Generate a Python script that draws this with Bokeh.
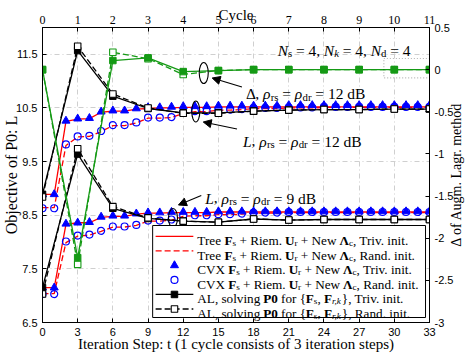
import math
from bokeh.plotting import figure
from bokeh.models import (Range1d, LinearAxis, FixedTicker, Label, Arrow,
                          NormalHead, BoxAnnotation)
from bokeh.embed import file_html
from bokeh.resources import INLINE

# ---------------- data ----------------
steps = list(range(34))                 # iteration steps t
cycle_steps = list(range(0, 34, 3))     # steps at which AL / Delta are reported
cycles = list(range(12))                # cycle index (top axis)

# 12 dB, L
tree_triv_12 = [8.89, 8.89, 10.25, 10.29, 10.30, 10.42, 10.44, 10.44, 10.48, 10.49,
                10.50, 10.50, 10.51, 10.51, 10.51, 10.52, 10.52, 10.52, 10.52, 10.52,
                10.52, 10.52, 10.52, 10.52, 10.52, 10.52, 10.52, 10.52, 10.52, 10.52,
                10.52, 10.52, 10.52, 10.52]
tree_rand_12 = [8.64, 8.64, 9.80, 9.96, 9.97, 10.06, 10.17, 10.17, 10.22, 10.31,
                10.31, 10.32, 10.40, 10.43, 10.43, 10.46, 10.46, 10.47, 10.49, 10.49,
                10.49, 10.50, 10.50, 10.50, 10.51, 10.51, 10.51, 10.51, 10.51, 10.51,
                10.51, 10.51, 10.51, 10.51]
cvx_triv_12 = [8.89, 8.89, 10.26, 10.30, 10.31, 10.43, 10.45, 10.45, 10.49, 10.51,
               10.51, 10.52, 10.53, 10.53, 10.53, 10.54, 10.54, 10.54, 10.54, 10.54,
               10.54, 10.55, 10.55, 10.55, 10.55, 10.55, 10.55, 10.55, 10.55, 10.55,
               10.55, 10.55, 10.55, 10.55]
cvx_rand_12 = [8.63, 8.63, 9.82, 9.97, 9.98, 10.07, 10.18, 10.18, 10.23, 10.32,
               10.32, 10.33, 10.41, 10.44, 10.44, 10.47, 10.47, 10.48, 10.50, 10.50,
               10.50, 10.51, 10.51, 10.51, 10.52, 10.52, 10.52, 10.52, 10.52, 10.52,
               10.52, 10.52, 10.52, 10.52]
al_triv_12 = [8.89, 11.57, 10.72, 10.49, 10.41, 10.41, 10.44, 10.46, 10.47, 10.47, 10.48, 10.48]
al_rand_12 = [8.84, 11.65, 10.76, 10.50, 10.40, 10.40, 10.44, 10.46, 10.47, 10.47, 10.48, 10.48]

# 9 dB, L
tree_triv_9 = [7.15, 7.15, 8.33, 8.36, 8.36, 8.46, 8.48, 8.48, 8.52, 8.54,
               8.54, 8.55, 8.55, 8.55, 8.55, 8.56, 8.56, 8.56, 8.56, 8.56,
               8.56, 8.56, 8.56, 8.56, 8.56, 8.56, 8.56, 8.56, 8.56, 8.56,
               8.56, 8.56, 8.56, 8.56]
tree_rand_9 = [7.04, 7.04, 7.99, 8.11, 8.13, 8.20, 8.28, 8.28, 8.31, 8.39,
               8.39, 8.41, 8.48, 8.49, 8.49, 8.51, 8.51, 8.52, 8.54, 8.54,
               8.54, 8.55, 8.55, 8.55, 8.55, 8.55, 8.55, 8.55, 8.55, 8.55,
               8.55, 8.55, 8.55, 8.55]
cvx_triv_9 = [7.15, 7.15, 8.34, 8.36, 8.37, 8.47, 8.49, 8.49, 8.53, 8.55,
              8.55, 8.56, 8.56, 8.56, 8.56, 8.57, 8.57, 8.57, 8.57, 8.57,
              8.57, 8.57, 8.57, 8.57, 8.57, 8.57, 8.57, 8.57, 8.57, 8.57,
              8.57, 8.57, 8.57, 8.57]
cvx_rand_9 = [7.03, 7.03, 8.01, 8.12, 8.14, 8.21, 8.29, 8.29, 8.32, 8.40,
              8.40, 8.42, 8.49, 8.50, 8.50, 8.52, 8.52, 8.53, 8.55, 8.55,
              8.55, 8.56, 8.56, 8.56, 8.56, 8.56, 8.56, 8.56, 8.56, 8.56,
              8.56, 8.56, 8.56, 8.56]
al_triv_9 = [7.15, 9.64, 8.63, 8.44, 8.39, 8.37, 8.43, 8.41, 8.42, 8.42, 8.42, 8.42]
al_rand_9 = [7.03, 9.74, 8.66, 8.45, 8.39, 8.37, 8.43, 8.41, 8.42, 8.42, 8.42, 8.42]

# Delta of augmented Lagrangian method, 12 dB (right axis)
delta_triv = [0.0, -2.23, 0.108, 0.14, -0.023, -0.012, 0.0, 0.0, 0.0, 0.0, 0.0, 0.0]
delta_rand = [0.0, -2.31, 0.206, 0.13, -0.058, -0.010, 0.0, 0.0, 0.0, 0.0, 0.0, 0.0]

left_ticks = [6.5, 7.5, 8.5, 9.5, 10.5, 11.5]
bottom_ticks = list(range(0, 34, 3))
right_ticks = [-3, -2.5, -2, -1.5, -1, -0.5, 0, 0.5]
right_tick_labels = ["-3", "-2.5", "-2", "-1.5", "-1", "-0.5", "0", "0.5"]

legend_suffix = ["Triv. init.", "Rand. init.", "Triv. init.", "Rand. init.", "Triv. init.", "Rand. init."]

# ---------------- layout ----------------
W, H = 474, 357
FL, FR, FT, FB = 41, 431, 27, 322
X0, X1 = 0.0, 33.0
Y0, Y1 = 6.5, 12.0
R0, R1 = -3.0, 0.5

def tx(px):
    return X0 + (px - FL) * (X1 - X0) / (FR - FL)

def ty(py):
    return Y0 + (FB - py) * (Y1 - Y0) / (FB - FT)

def tr(py):
    return R0 + (FB - py) * (R1 - R0) / (FB - FT)

SERIF = "Liberation Serif"
SANS = "Liberation Sans"
RED, BLUE, GREEN, BLACK = "#ff0000", "#0000ff", "#159a15", "#000000"

p = figure(width=W, height=H, x_range=Range1d(X0, X1), y_range=Range1d(Y0, Y1),
           output_backend="svg", toolbar_location=None,
           min_border_left=FL, min_border_right=W - FR,
           min_border_top=FT, min_border_bottom=H - FB)
p.background_fill_color = "white"
p.border_fill_color = "white"
p.outline_line_color = "black"
p.outline_line_width = 1

bottom_ax = p.below[0]
left_ax = p.left[0]

p.extra_y_ranges = {"right": Range1d(R0, R1)}
p.extra_x_ranges = {"cyc": Range1d(0, 11)}

ax_r = LinearAxis(y_range_name="right", ticker=FixedTicker(ticks=right_ticks),
                  major_label_overrides={t: l for t, l in zip(right_ticks, right_tick_labels)})
ax_t = LinearAxis(x_range_name="cyc", ticker=FixedTicker(ticks=cycles))
p.add_layout(ax_r, "right")
p.add_layout(ax_t, "above")
bottom_ax.ticker = FixedTicker(ticks=bottom_ticks)
left_ax.ticker = FixedTicker(ticks=left_ticks)

for ax in [bottom_ax, left_ax, ax_r, ax_t]:
    ax.axis_line_color = "black"
    ax.major_tick_in = 4
    ax.major_tick_out = 0
    ax.minor_tick_in = 0
    ax.minor_tick_out = 0
    ax.major_tick_line_color = "black"
    ax.major_label_text_color = "black"
    ax.major_label_text_font = SANS
    ax.major_label_text_font_size = "11px"
    ax.major_label_standoff = 5
    ax.axis_label_text_font = SERIF
    ax.axis_label_text_font_style = "normal"
    ax.axis_label_text_color = "black"
ax_t.major_label_text_font = SERIF
ax_t.major_label_text_font_size = "12px"
ax_t.major_label_standoff = 4

bottom_ax.axis_label = "Iteration Step: t (1 cycle consists of 3 iteration steps)"
bottom_ax.axis_label_text_font_size = "15px"
bottom_ax.axis_label_standoff = -3
left_ax.axis_label = "Objective of P0: L"
left_ax.axis_label_text_font_size = "16px"
left_ax.axis_label_standoff = -7
ax_t.axis_label = "Cycle"
ax_t.axis_label_text_font_size = "15px"
ax_t.axis_label_standoff = -10

# right-hand title: one rotated tick label on a bare companion axis, so that it
# reads bottom-to-top and starts where the reference's title starts
title_tick = -2.1
ax_r_title = LinearAxis(y_range_name="right", ticker=FixedTicker(ticks=[title_tick]),
                        major_label_overrides={title_tick: "Δ of Augm. Lagr. method"},
                        major_label_orientation=math.pi / 2,
                        major_label_text_font=SERIF, major_label_text_font_size="14px",
                        major_label_text_color="black", major_label_standoff=0,
                        axis_line_color=None, major_tick_line_color=None,
                        minor_tick_line_color=None,
                        major_tick_in=0, major_tick_out=0, minor_tick_in=0, minor_tick_out=0)
p.add_layout(ax_r_title, "right")

p.xgrid.ticker = FixedTicker(ticks=bottom_ticks)
p.ygrid.ticker = FixedTicker(ticks=left_ticks)
for g in [p.xgrid[0], p.ygrid[0]]:
    g.grid_line_color = "#cfcfcf"
    g.grid_line_dash = "5 3 1 3"
    g.grid_line_width = 1

# ---------------- series ----------------
LW = 1.3
for ys in [tree_triv_12, tree_triv_9]:
    p.line(steps, ys, line_color=RED, line_width=LW)
for ys in [tree_rand_12, tree_rand_9]:
    p.line(steps, ys, line_color=RED, line_width=LW, line_dash="6 3")
for ys in [cvx_triv_12, cvx_triv_9]:
    p.scatter(steps, ys, marker="triangle", size=8, fill_color=BLUE, line_color=BLUE)
for ys in [cvx_rand_12, cvx_rand_9]:
    p.scatter(steps, ys, marker="circle", size=7, fill_color=None, line_color=BLUE, line_width=1.2)
for ys in [al_triv_12, al_triv_9]:
    p.line(cycle_steps, ys, line_color=BLACK, line_width=LW)
    p.scatter(cycle_steps, ys, marker="square", size=6.5, fill_color=BLACK, line_color=BLACK)
for ys in [al_rand_12, al_rand_9]:
    p.line(cycle_steps, ys, line_color=BLACK, line_width=LW, line_dash="6 3")
    p.scatter(cycle_steps, ys, marker="square", size=6.5, fill_color="white", line_color=BLACK, line_width=1.1)
p.line(cycle_steps, delta_rand, y_range_name="right", line_color=GREEN, line_width=LW, line_dash="6 3")
p.scatter(cycle_steps, delta_rand, y_range_name="right", marker="square", size=6.5,
          fill_color="white", line_color=GREEN, line_width=1.1)
p.line(cycle_steps, delta_triv, y_range_name="right", line_color=GREEN, line_width=LW)
p.scatter(cycle_steps, delta_triv, y_range_name="right", marker="square", size=6.5,
          fill_color=GREEN, line_color=GREEN)

# ---------------- rich text helper ----------------
REG = {' ': .25, ',': .25, '.': .25, ':': .278, '(': .333, ')': .333, '{': .48, '}': .48,
       '+': .564, '=': .564, '-': .333, 'Δ': .612, 'Λ': .70, 'ρ': .5}
for c in "0123456789":
    REG[c] = .5
REG.update(dict(A=.722, B=.667, C=.667, D=.722, E=.611, F=.556, G=.722, H=.722, I=.333,
                J=.389, K=.722, L=.611, M=.889, N=.722, O=.722, P=.556, Q=.722, R=.667,
                S=.556, T=.611, U=.722, V=.722, W=.944, X=.722, Y=.722, Z=.611,
                a=.444, b=.5, c=.444, d=.5, e=.444, f=.333, g=.5, h=.5, i=.278, j=.278,
                k=.5, l=.278, m=.778, n=.5, o=.5, p=.5, q=.5, r=.333, s=.389, t=.278,
                u=.5, v=.5, w=.722, x=.5, y=.5, z=.444))
ITAL = dict(N=.667, L=.556, k=.444, r=.389, t=.278, d=.5)
BOLD = {'F': .611, 'U': .722, 'P': .611, 'Λ': .72, 'r': .444, 's': .389, 'c': .444, '0': .5}


def text_w(s, style, fs):
    tab = dict(REG)
    if style == "italic":
        tab.update(ITAL)
    elif style == "bold":
        tab.update(BOLD)
    return sum(tab.get(ch, .5) for ch in s) * fs


def add_rich(segs, x0, y0, size):
    cum = 0.0
    for (t, st, sub) in segs:
        fs = size * 0.7 if sub else size
        lead = len(t) - len(t.lstrip(" "))
        shown = t.strip(" ")
        off = cum + lead * REG[' '] * fs
        shift = 0.2 * size if sub else 0.0
        if shown:
            p.add_layout(Label(x=tx(x0 + off), y=ty(y0 + shift), text=shown, text_font=SERIF,
                               text_font_size=f"{fs:.1f}px", text_font_style=st,
                               text_color="black", text_align="left",
                               text_baseline="alphabetic"))
        cum += text_w(t, st, fs)


N, I, B = "normal", "italic", "bold"

# ---------------- annotations ----------------
add_rich([("N", I, 0), ("s", N, 1), (" = 4, ", N, 0), ("N", I, 0), ("k", I, 1),
          (" = 4, ", N, 0), ("N", I, 0), ("d", N, 1), (" = 4", N, 0)], 278, 49.5, 15.5)
add_rich([("Δ", N, 0), (", ", N, 0), ("ρ", I, 0), ("rs", N, 1), (" = ", N, 0), ("ρ", I, 0),
          ("dr", N, 1), (" = 12 dB", N, 0)], 246, 93.3, 15.5)
add_rich([("L", I, 0), (", ", N, 0), ("ρ", I, 0), ("rs", N, 1), (" = ", N, 0), ("ρ", I, 0),
          ("dr", N, 1), (" = 12 dB", N, 0)], 243, 140.7, 15.5)
add_rich([("L", I, 0), (", ", N, 0), ("ρ", I, 0), ("rs", N, 1), (" = ", N, 0), ("ρ", I, 0),
          ("dr", N, 1), (" = 9 dB", N, 0)], 205, 197.7, 15.5)

# ellipses (screen-sized) and arrows
ell_px = [(203.5, 72.5, 9, 21), (195.5, 111.0, 8, 21), (172.5, 217.5, 9, 19)]
p.ellipse(x=[tx(e[0]) for e in ell_px], y=[ty(e[1]) for e in ell_px],
          width=[e[2] for e in ell_px], height=[e[3] for e in ell_px],
          width_units="screen", height_units="screen",
          fill_color=None, line_color="black", line_width=1.1)
arrows_px = [((242, 86.5), (212, 77.5)), ((237, 128.5), (203, 121.5)), ((201, 195), (178, 204.5))]
for (sx, sy), (ex, ey) in arrows_px:
    p.add_layout(Arrow(end=NormalHead(size=8, fill_color="black", line_color="black"),
                       x_start=tx(sx), y_start=ty(sy), x_end=tx(ex), y_end=ty(ey),
                       line_color="black", line_width=1.1))

# dotted box around converged Delta
p.add_layout(BoxAnnotation(left=tx(385), right=tx(447), top=tr(58), bottom=tr(77.3),
                           y_range_name="right", fill_color=None, fill_alpha=0,
                           line_color="black", line_dash="1 2", line_width=1.2))

# ---------------- legend (drawn manually for rich text) ----------------
LG_L, LG_R, LG_T, LG_B = 152, 427, 225, 317
p.quad(left=[tx(LG_L)], right=[tx(LG_R)], top=[ty(LG_T)], bottom=[ty(LG_B)],
       fill_color="white", line_color="black", line_width=1)
row_base = [240 + 14.54 * i for i in range(6)]
row_mid = [b - 4.2 for b in row_base]
gx0, gx1, gxm = tx(155), tx(193), tx(174)

p.line([gx0, gx1], [ty(row_mid[0])] * 2, line_color=RED, line_width=LW)
p.line([gx0, gx1], [ty(row_mid[1])] * 2, line_color=RED, line_width=LW, line_dash="6 3")
p.scatter([gxm], [ty(row_mid[2])], marker="triangle", size=8, fill_color=BLUE, line_color=BLUE)
p.scatter([gxm], [ty(row_mid[3])], marker="circle", size=7, fill_color=None, line_color=BLUE, line_width=1.2)
p.line([gx0, gx1], [ty(row_mid[4])] * 2, line_color=BLACK, line_width=LW)
p.scatter([gxm], [ty(row_mid[4])], marker="square", size=6.5, fill_color=BLACK, line_color=BLACK)
p.line([gx0, gx1], [ty(row_mid[5])] * 2, line_color=BLACK, line_width=LW, line_dash="6 3")
p.scatter([gxm], [ty(row_mid[5])], marker="square", size=6.5, fill_color="white", line_color=BLACK, line_width=1.1)


def method_segs(prefix, suffix):
    return [(prefix + " ", N, 0), ("F", B, 0), ("s", N, 1), (" + Riem. ", N, 0), ("U", B, 0),
            ("r", N, 1), (" + New ", N, 0), ("Λ", B, 0), ("c", N, 1), (", " + suffix, N, 0)]


def al_segs(suffix):
    return [("AL, solving ", N, 0), ("P0", B, 0), (" for {", N, 0), ("F", B, 0), ("s", N, 1),
            (", ", N, 0), ("F", B, 0), ("r,k", I, 1), ("}, " + suffix, N, 0)]


legend_rows = [method_segs("Tree", legend_suffix[0]), method_segs("Tree", legend_suffix[1]),
               method_segs("CVX", legend_suffix[2]), method_segs("CVX", legend_suffix[3]),
               al_segs(legend_suffix[4]), al_segs(legend_suffix[5])]
for segs, yb in zip(legend_rows, row_base):
    add_rich(segs, 197, yb, 13.2)

open("out.html", "w").write(file_html(p, INLINE))
